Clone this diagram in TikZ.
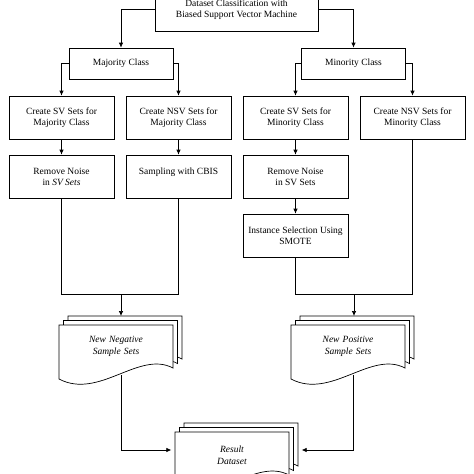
\documentclass[tikz,border=0pt]{standalone}
\usepackage{fontspec}
\setmainfont{Liberation Serif}
\usetikzlibrary{arrows.meta}

% one page of a stack of documents, top left corner at (#1,#2)
\newcommand{\docpage}[2]{%
  \begin{scope}[shift={(#1,#2)}]
    \filldraw[fill=white] (0,0) -- (114,0) -- (114,43)
      .. controls (80,25) and (40,75) .. (0,54) -- cycle;
  \end{scope}}

\begin{document}
\begin{tikzpicture}[x=1pt, y=-1pt, line width=0.7pt,
    font=\fontsize{9.5}{11}\selectfont,
    box/.style={draw, fill=white, align=center, inner sep=0pt},
    stepbox/.style={box, minimum width=105, minimum height=43},
    classbox/.style={box, minimum width=104, minimum height=31},
    doctext/.style={align=center, text width=114, font=\fontsize{9.5}{12}\selectfont\itshape},
    arr/.style={-{Latex[length=5pt,width=4.5pt]}}]
    \useasboundingbox (0,0) rectangle (474,474);
    \clip (0,0) rectangle (474,474);

    % Stacked documents
    \foreach \k in {2,1,0} {
        \docpage{59+4.5*\k}{325-4.5*\k}
        \docpage{291+4.5*\k}{325-4.5*\k}
        \docpage{175+4.5*\k}{432-4.5*\k}
    }

    % Boxes
    \node[box, minimum width=163, minimum height=43] (svm) at (236.5,9.5)
        {Dataset Classification with\\Biased Support Vector Machine};
    \node[classbox] (major) at (121,63.5) {Majority Class};
    \node[classbox] (minor) at (353.5,63.5) {Minority Class};

    \node[stepbox] (svmaj) at (61.5,117.5) {Create SV Sets for\\Majority Class};
    \node[stepbox] (nsvmaj) at (178.5,117.5) {Create NSV Sets for\\Majority Class};
    \node[stepbox] (svmin) at (295.5,117.5) {Create SV Sets for\\Minority Class};
    \node[stepbox] (nsvmin) at (412.5,117.5) {Create NSV Sets for\\Minority Class};

    \node[stepbox] (noisemaj) at (61.5,176.5) {Remove Noise\\in \textit{SV Sets}};
    \node[stepbox] (cbis) at (178.5,176.5) {Sampling with CBIS\\\phantom{x}};
    \node[stepbox] (noisemin) at (295.5,176.5) {Remove Noise\\in SV Sets};
    \node[stepbox] (smote) at (295.5,235.5) {Instance Selection Using\\SMOTE};

    % Document texts
    \node[doctext] (negdoc) at (116,346) {New Negative\\Sample Sets};
    \node[doctext] (posdoc) at (348,346) {New Positive\\Sample Sets};
    \node[doctext] (resdoc) at (232,455) {Result\\Dataset};

    % Joints
    \coordinate (joinneg) at (121,294);
    \coordinate (joinpos) at (354,294);
    \coordinate (negtop) at (121,316);
    \coordinate (postop) at (354,316);
    \coordinate (negbot) at (121,375);
    \coordinate (posbot) at (353,375);

    % Connectors
    \draw[arr] (svm.west) -| (major.north);
    \draw[arr] (svm.east) -| (minor.north);
    \draw[arr] (major.west) -| (svmaj.north);
    \draw[arr] (major.east) -| (nsvmaj.north);
    \draw[arr] (minor.west) -| (svmin.north);
    \draw[arr] (minor.east) -| (nsvmin.north);
    \draw[arr] (svmaj) -- (noisemaj);
    \draw[arr] (nsvmaj) -- (cbis);
    \draw[arr] (svmin) -- (noisemin);
    \draw[arr] (noisemin) -- (smote);

    \draw (noisemaj.south) |- (joinneg);
    \draw (cbis.south) |- (joinneg);
    \draw[arr] (joinneg) -- (negtop);
    \draw (smote.south) |- (joinpos);
    \draw (nsvmin.south) |- (joinpos);
    \draw[arr] (joinpos) -- (postop);

    \draw[arr] (negbot) |- ([yshift=5pt]resdoc.west);
    \draw[arr] (posbot) |- ([yshift=5pt, xshift=9pt]resdoc.east);
\end{tikzpicture}
\end{document}
